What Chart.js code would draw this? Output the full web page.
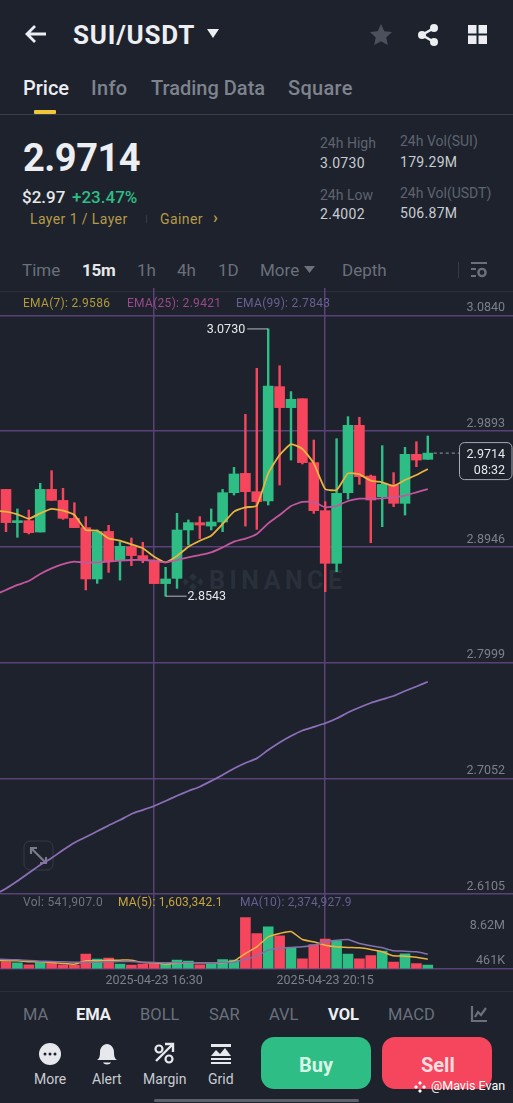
<!DOCTYPE html>
<html>
<head>
<meta charset="utf-8">
<title>SUI/USDT</title>
<script src="https://cdn.jsdelivr.net/npm/chart.js@4"></script>
<style>
  html, body { margin: 0; padding: 0; background: #1d222c; }
  #page { position: relative; width: 513px; height: 1103px; overflow: hidden; background: #1d222c; font-family: Roboto, sans-serif; }
  #page canvas { position: absolute; left: 0; }
  .t { position: absolute; white-space: nowrap; line-height: 24px; height: 24px; }
  .bar { position: absolute; }
  svg { position: absolute; }
</style>
</head>
<body>
<div id="page">
  <div class="bar" style="left:0;top:114px;width:513px;height:1px;background:#3a3f4a"></div>
  <div class="bar" style="left:34px;top:110px;width:22px;height:4px;background:#f0c63c;border-radius:1px"></div>
  <div class="bar" style="left:0;top:291px;width:513px;height:1px;background:#2a2f3a"></div>
  <div class="bar" style="left:0;top:991px;width:513px;height:1px;background:#2a2f3a"></div>
  <div class="bar" style="left:458px;top:262px;width:1px;height:16px;background:#353a45"></div>
  <div class="bar" style="left:146px;top:215px;width:1px;height:8px;background:#353a45"></div>
  <div class="bar" style="left:154px;top:1099px;width:205px;height:3px;border-radius:2px;background:#5c606a"></div>
  <div class="bar" style="left:261px;top:1037px;width:110px;height:52px;border-radius:13px;background:#2ebd85"></div>
  <div class="bar" style="left:382px;top:1037px;width:110px;height:52px;border-radius:13px;background:#f6465d"></div>

  <!-- header icons -->
  <svg style="left:24px;top:24px" width="24" height="20" viewBox="0 0 24 20"><path d="M22 10H3M11 2L3 10l8 8" fill="none" stroke="#eceef2" stroke-width="2.8"/></svg>
  <svg style="left:205px;top:28px" width="16" height="12" viewBox="0 0 16 12"><path d="M2 1h12L8 10z" fill="#eceef2"/></svg>
  <svg style="left:369px;top:23px" width="24" height="24" viewBox="0 0 24 24"><path d="M12 1l3.3 7.2 7.7.9-5.7 5.3 1.5 7.7L12 18.200l-6.800 3.900 1.500-7.700L1 9.100l7.700-.9z" fill="#4b505c"/></svg>
  <svg style="left:416px;top:23px" width="24" height="24" viewBox="0 0 24 24"><path d="M18 5L6 12l12 7" fill="none" stroke="#eceef2" stroke-width="2.600"/><circle cx="18" cy="5" r="4" fill="#eceef2"/><circle cx="6" cy="12" r="4" fill="#eceef2"/><circle cx="18" cy="19" r="4" fill="#eceef2"/></svg>
  <svg style="left:467px;top:24px" width="21" height="21" viewBox="0 0 21 21"><path d="M1 1h8.500v8.500H1zM11.500 1H20v8.500h-8.500zM1 11.500h8.500V20H1zM11.500 11.500H20V20h-8.500z" fill="#eceef2"/></svg>
  <svg style="left:303px;top:265px" width="13" height="9" viewBox="0 0 13 9"><path d="M1 1h11L6.500 8z" fill="#6b707c"/></svg>
  <svg style="left:469px;top:260px" width="20" height="20" viewBox="0 0 20 20"><path d="M2 3h16M2 9h5M2 16h5" stroke="#6b707c" stroke-width="2.200" fill="none"/><circle cx="13" cy="12.500" r="3.600" fill="none" stroke="#6b707c" stroke-width="2.400"/></svg>

  <!-- watermark and expand button sit behind the chart canvas -->
  <svg style="left:182px;top:571px" width="22" height="22" viewBox="0 0 22 22"><path d="M11 2l4 4-4 4-4-4zM11 12l4 4-4 4-4-4zM3 7l4 4-4 4-2-4zM19 7l2 4-2 4-4-4z" fill="#2a303b"/></svg>
  <div class="t" style="left:209px;top:569px;font-size:25px;line-height:24px;font-weight:700;letter-spacing:4.500px;color:#2a303b">BINANCE</div>
  <svg style="left:23px;top:840px" width="31" height="31" viewBox="0 0 31 31"><rect x="1" y="1" width="29" height="29" rx="6" fill="none" stroke="#353a46"/><path d="M8 8l15 15M8 14V8h6M23 17v6h-6" fill="none" stroke="#777b88" stroke-width="2.200"/></svg>

  <canvas id="priceChart" width="513" height="608" style="top:288px;width:513px;height:608px"></canvas>
  <canvas id="volChart" width="513" height="94" style="top:896px;width:513px;height:94px"></canvas>

  <!-- bottom toolbar icons -->
  <svg style="left:470px;top:1005px" width="18" height="18" viewBox="0 0 18 18"><path d="M2 1v15h15M5 12l3-5 3 3 5-7" fill="none" stroke="#6b707c" stroke-width="2.200"/></svg>
  <svg style="left:38px;top:1042px" width="24" height="24" viewBox="0 0 24 24"><circle cx="12" cy="12" r="11" fill="#e6e8ee"/><circle cx="7" cy="12" r="1.500" fill="#1d222c"/><circle cx="12" cy="12" r="1.500" fill="#1d222c"/><circle cx="17" cy="12" r="1.500" fill="#1d222c"/></svg>
  <svg style="left:96px;top:1042px" width="22" height="24" viewBox="0 0 22 24"><path d="M1 18c2-1 3-3 3-8 0-4 3-8 7-8s7 4 7 8c0 5 1 7 3 8z" fill="#e6e8ee"/><path d="M7 20.500h8c-1 2.500-7 2.500-8 0z" fill="#e6e8ee"/></svg>
  <svg style="left:153px;top:1042px" width="22" height="22" viewBox="0 0 22 22"><path d="M3 19L20 2M12 2h8v8" fill="none" stroke="#e6e8ee" stroke-width="2.400"/><circle cx="6" cy="7" r="3.500" fill="none" stroke="#e6e8ee" stroke-width="2.200"/><circle cx="16" cy="17" r="3.500" fill="none" stroke="#e6e8ee" stroke-width="2.200"/></svg>
  <svg style="left:210px;top:1042px" width="22" height="22" viewBox="0 0 22 22"><path d="M1 2h20v3H1zM1 16h20v2H1zM1 20h20v2H1z" fill="#e6e8ee"/><path d="M1 14l5-6 4 4 5-6 6 8z" fill="#e6e8ee"/></svg>
  <svg style="left:413px;top:1080px" width="14" height="14" viewBox="0 0 14 14"><path d="M7 1l2 2-2 2-2-2zM7 9l2 2-2 2-2-2zM3 5l2 2-2 2-2-2zM11 5l2 2-2 2-2-2z" fill="#fff"/></svg>
</div>

<script>
// candles, one per 15 minutes
const opens = [2.9417, 2.9145, 2.9161, 2.9068, 2.9417, 2.9327, 2.9180, 2.9104, 2.8684, 2.9073, 2.8839, 2.8948, 2.8875, 2.8839, 2.8646, 2.8689, 2.9085, 2.9145, 2.9117, 2.9150, 2.9390, 2.9548, 2.9398, 2.9322, 3.0258, 3.0086, 3.0159, 2.9636, 2.9243, 2.8812, 2.9390, 2.9941, 2.9526, 2.9357, 2.9453, 2.9303, 2.9704, 2.9663];
const highs = [2.9417, 2.9257, 2.9248, 2.9467, 2.9570, 2.9426, 2.9308, 2.9194, 2.9085, 2.9123, 2.8989, 2.9019, 2.8984, 2.8839, 2.8779, 2.9221, 2.9167, 2.9194, 2.9257, 2.9417, 2.9597, 3.0031, 3.0408, 3.0730, 3.0429, 3.0217, 3.0159, 2.9821, 2.9317, 2.9832, 3.0012, 3.0007, 2.9535, 2.9775, 2.9554, 2.9761, 2.9807, 2.9854];
const lows = [2.9071, 2.9025, 2.9052, 2.9068, 2.9327, 2.9172, 2.9104, 2.8594, 2.8648, 2.8738, 2.8675, 2.8793, 2.8817, 2.8646, 2.8543, 2.8607, 2.8962, 2.9014, 2.9085, 2.9071, 2.9371, 2.9117, 2.9090, 2.9289, 2.9453, 2.9657, 2.9625, 2.9221, 2.8580, 2.8744, 2.9338, 2.9458, 2.8981, 2.9112, 2.9276, 2.9207, 2.9603, 2.9663];
const closes = [2.9145, 2.9161, 2.9063, 2.9417, 2.9327, 2.9180, 2.9104, 2.8684, 2.9071, 2.8826, 2.8951, 2.8875, 2.8839, 2.8646, 2.8684, 2.9085, 2.9145, 2.9125, 2.9150, 2.9390, 2.9543, 2.9398, 2.9317, 3.0263, 3.0086, 3.0154, 2.9636, 2.9243, 2.8812, 2.9385, 2.9941, 2.9521, 2.9330, 2.9458, 2.9303, 2.9704, 2.9657, 2.9714];

// the line series start one step earlier so they reach the left edge
const ema7 = [2.9243, 2.9235, 2.9213, 2.9177, 2.9221, 2.9257, 2.9243, 2.9207, 2.9085, 2.9079, 2.9016, 2.8997, 2.8967, 2.8935, 2.8866, 2.8820, 2.8872, 2.8948, 2.8997, 2.9038, 2.9134, 2.9235, 2.9270, 2.9284, 2.9548, 2.9698, 2.9788, 2.9748, 2.9630, 2.9420, 2.9412, 2.9548, 2.9540, 2.9488, 2.9475, 2.9445, 2.9494, 2.9535, 2.9584];
const ema25 = [2.8553, 2.8594, 2.8635, 2.8667, 2.8725, 2.8771, 2.8806, 2.8826, 2.8817, 2.8820, 2.8826, 2.8834, 2.8839, 2.8839, 2.8831, 2.8820, 2.8839, 2.8861, 2.8880, 2.8902, 2.8943, 2.8989, 2.9014, 2.9052, 2.9139, 2.9207, 2.9281, 2.9314, 2.9314, 2.9270, 2.9281, 2.9322, 2.9341, 2.9341, 2.9344, 2.9352, 2.9366, 2.9393, 2.9420];
const ema99 = [2.6100, 2.6151, 2.6212, 2.6278, 2.6343, 2.6401, 2.6466, 2.6526, 2.6572, 2.6619, 2.6667, 2.6711, 2.6761, 2.6793, 2.6826, 2.6867, 2.6910, 2.6949, 2.6984, 2.7031, 2.7080, 2.7133, 2.7178, 2.7216, 2.7284, 2.7346, 2.7399, 2.7444, 2.7473, 2.7503, 2.7542, 2.7591, 2.7632, 2.7669, 2.7698, 2.7726, 2.7767, 2.7804, 2.7843];

// volume pane, millions
const volumes = [1.99, 1.76, 1.30, 1.84, 1.84, 1.30, 1.23, 3.75, 2.61, 2.84, 1.46, 1.23, 1.46, 1.61, 1.46, 2.38, 2.15, 1.30, 1.46, 2.53, 2.38, 12.18, 8.50, 10.04, 7.97, 5.29, 2.68, 5.98, 7.20, 6.82, 3.75, 2.68, 3.45, 4.44, 1.92, 3.83, 1.61, 1.23];
const ma5 = [2.38, 2.22, 2.22, 1.99, 1.99, 1.84, 1.61, 1.46, 2.22, 2.22, 2.38, 2.38, 2.38, 1.84, 1.76, 1.46, 1.69, 1.76, 1.76, 1.76, 1.76, 2.22, 3.91, 5.44, 7.74, 8.51, 8.96, 7.12, 6.59, 5.82, 5.44, 5.29, 5.21, 4.83, 4.29, 3.37, 3.30, 3.07, 2.61];
const ma10 = [2.61, 2.53, 2.45, 2.30, 2.15, 2.07, 1.99, 1.92, 1.92, 1.92, 1.99, 2.07, 2.07, 1.92, 1.84, 1.76, 1.76, 1.76, 1.76, 1.76, 1.84, 1.92, 2.61, 3.37, 4.68, 5.13, 5.29, 5.44, 5.82, 6.59, 6.97, 7.12, 6.21, 5.67, 5.21, 4.52, 4.44, 4.29, 3.76];

const priceTicks = [3.0840, 2.9893, 2.8946, 2.7999, 2.7052, 2.6105];
const volTicks = [0.461, 8.62];
const timeTicks = [13, 28];
const timeLabels = ["2025-04-23 16:30", "2025-04-23 20:15"];
const countdown = "08:32";

const GREEN = '#2ebd85';
const RED = '#f6465d';
const GRID = '#5a4278';
const AXIS_TEXT = '#7c808b';

// text around the chart: [text, left, centre y, size, colour, weight, letter spacing]
const labels = [
  ["SUI/USDT", 73, 35, 26, '#eceef2', 700, 0.8],
  ["Price", 23, 88, 20, '#eceef2', 500, 0],
  ["Info", 91, 88, 20, '#7e838e', 500, 0.3],
  ["Trading Data", 151, 88, 20, '#7e838e', 500, 0],
  ["Square", 288, 88, 20, '#7e838e', 500, 0.3],
  ["2.9714", 23, 158, 38, '#eceef2', 700, -0.5],
  ["$2.97", 22, 197, 17, '#e6e8ea', 500, 0],
  ["+23.47%", 72, 197, 17, GREEN, 500, 0],
  ["Layer 1 / Layer", 30, 219, 14, '#b79a48', 400, 0.4],
  ["Gainer", 160, 219, 14, '#b79a48', 400, 0.4],
  ["›", 213, 218, 16, '#b79a48', 700, 0],
  ["24h High", 320, 143, 14, '#5e6470', 400, 0],
  ["3.0730", 320, 163, 14, '#c8ccd2', 400, 0.3],
  ["24h Low", 320, 195, 14, '#5e6470', 400, 0],
  ["2.4002", 320, 214, 14, '#c8ccd2', 400, 0.3],
  ["24h Vol(SUI)", 400, 141, 14, '#5e6470', 400, 0],
  ["179.29M", 400, 162, 14, '#c8ccd2', 400, 0.3],
  ["24h Vol(USDT)", 400, 193, 14, '#5e6470', 400, 0],
  ["506.87M", 400, 213, 14, '#c8ccd2', 400, 0.3],
  ["Time", 22, 270, 17, '#6b707c', 400, 0],
  ["15m", 82, 270, 17, '#e6e8ea', 700, -0.2],
  ["1h", 137, 270, 17, '#6b707c', 400, 0],
  ["4h", 177, 270, 17, '#6b707c', 400, 0],
  ["1D", 218, 270, 17, '#6b707c', 400, 0],
  ["More", 260, 270, 17, '#6b707c', 400, 0],
  ["Depth", 342, 270, 17, '#6b707c', 400, 0],
  ["EMA(7): 2.9586", 23, 303, 12, '#b29a3e', 400, 0.3],
  ["EMA(25): 2.9421", 127, 303, 12, '#9a4a8c', 400, 0.3],
  ["EMA(99): 2.7843", 236, 303, 12, '#6a5f94', 400, 0.3],
  ["Vol: 541,907.0", 23, 902, 12, '#6e7480', 400, 0.3],
  ["MA(5): 1,603,342.1", 118, 902, 12, '#c9a63e', 400, 0.2],
  ["MA(10): 2,374,927.9", 240, 902, 12, '#6a5f94', 400, 0.2],
  ["MA", 23, 1015, 16.5, '#6b707c', 400, 0],
  ["EMA", 76, 1015, 16.5, '#eceef2', 700, 0],
  ["BOLL", 140, 1015, 16.5, '#6b707c', 400, 0],
  ["SAR", 209, 1015, 16.5, '#6b707c', 400, 0],
  ["AVL", 269, 1015, 16.5, '#6b707c', 400, 0],
  ["VOL", 328, 1015, 16.5, '#eceef2', 700, 0],
  ["MACD", 388, 1015, 16.5, '#6b707c', 400, 0],
  ["More", 34, 1079, 14, '#c8ccd2', 400, 0],
  ["Alert", 92, 1079, 14, '#c8ccd2', 400, 0],
  ["Margin", 143, 1079, 14, '#c8ccd2', 400, 0],
  ["Grid", 208, 1079, 14, '#c8ccd2', 400, 0],
  ["Buy", 299, 1065, 20, '#d5f5e6', 700, 0],
  ["Sell", 421, 1065, 20, '#fbdde1', 700, 0],
  ["@Mavis Evan", 431, 1086, 12.5, '#ffffff', 400, 0]
];

const page = document.getElementById('page');
labels.forEach(([text, left, cy, size, color, weight, spacing]) => {
  const el = document.createElement('div');
  el.className = 't';
  el.textContent = text;
  el.style.cssText = `left:${left}px;top:${cy - 12}px;font-size:${size}px;color:${color};font-weight:${weight};letter-spacing:${spacing}px`;
  page.appendChild(el);
});

const candleColors = closes.map((c, i) => c >= opens[i] ? GREEN : RED);
const lineXY = arr => arr.map((v, i) => ({ x: i - 1, y: v }));
const barXY = (a, b) => a.map((v, i) => ({ x: i, y: [v, b[i]] }));

function lineSet(data, color, width) {
  return { type: 'line', data: lineXY(data), borderColor: color, borderWidth: width, pointRadius: 0, tension: 0.15, order: 0 };
}

// x pixel = 6 + 11.4 * index, both panes share it
const xScale = (showLabels) => ({
  type: 'linear',
  min: -0.5263,
  max: 44.4737,
  offset: false,
  border: { display: false },
  grid: { color: GRID, lineWidth: 1.5, offset: false, drawTicks: false },
  afterBuildTicks: s => { s.ticks = timeTicks.map(v => ({ value: v })); },
  afterFit: s => { if (showLabels) s.height = 21.5; },
  ticks: {
    display: showLabels,
    autoSkip: false,
    maxRotation: 0,
    color: AXIS_TEXT,
    padding: 5,
    font: { family: 'Roboto', size: 12.5 },
    callback: v => timeLabels[timeTicks.indexOf(v)]
  }
});

// labels sit inside the plot on the right, the axis itself takes no width
const yScale = (min, max, ticks, format, gridColor) => ({
  type: 'linear',
  position: 'right',
  min: min,
  max: max,
  beginAtZero: false,
  border: { display: false },
  grid: { color: gridColor, lineWidth: 1.5, drawTicks: false },
  afterBuildTicks: s => { s.ticks = ticks.map(v => ({ value: v })); },
  afterFit: s => { s.width = 0; s.paddingTop = 0; s.paddingBottom = 0; },
  ticks: {
    mirror: true,
    padding: -8,
    labelOffset: -7.5,
    color: AXIS_TEXT,
    font: { family: 'Roboto', size: 12.5 },
    callback: format
  }
});

// high / low markers and the current price box
const markers = {
  id: 'markers',
  afterDatasetsDraw(chart) {
    const { ctx, scales: { x, y } } = chart;
    ctx.save();
    ctx.font = '12.5px Roboto';
    ctx.textBaseline = 'middle';

    const hi = highs.indexOf(Math.max(...highs));
    const lo = lows.indexOf(Math.min(...lows));
    const hiX = x.getPixelForValue(hi), hiY = y.getPixelForValue(highs[hi]);
    const loX = x.getPixelForValue(lo), loY = y.getPixelForValue(lows[lo]);
    ctx.strokeStyle = '#b5b8bd';
    ctx.lineWidth = 1;
    ctx.beginPath();
    ctx.moveTo(hiX, hiY);
    ctx.lineTo(hiX - 21, hiY);
    ctx.moveTo(loX, loY);
    ctx.lineTo(loX + 21, loY);
    ctx.stroke();
    ctx.fillStyle = '#e6e8ea';
    ctx.textAlign = 'right';
    ctx.fillText(highs[hi].toFixed(4), hiX - 23, hiY + 1);
    ctx.textAlign = 'left';
    ctx.fillText(lows[lo].toFixed(4), loX + 22, loY + 1);

    // dashed line from the last candle into the box
    const last = closes.length - 1;
    const lastY = y.getPixelForValue(closes[last]);
    ctx.setLineDash([3, 3]);
    ctx.strokeStyle = '#9a9ea6';
    ctx.beginPath();
    ctx.moveTo(x.getPixelForValue(last) + 6, lastY);
    ctx.lineTo(459, lastY);
    ctx.stroke();
    ctx.setLineDash([]);

    ctx.beginPath();
    ctx.roundRect(459.5, lastY - 10.5, 52.5, 37, 5);
    ctx.fillStyle = '#1d222c';
    ctx.fill();
    ctx.strokeStyle = '#a6aab2';
    ctx.stroke();
    ctx.fillStyle = '#e6e8ea';
    ctx.textAlign = 'right';
    ctx.fillText(closes[last].toFixed(4), 505, lastY + 2);
    ctx.fillText(countdown, 505, lastY + 18);
    ctx.restore();
  }
};

Chart.defaults.animation = false;

new Chart(document.getElementById('priceChart'), {
  type: 'bar',
  data: {
    datasets: [
      lineSet(ema99, '#8d6fb9', 1.8),
      lineSet(ema25, '#c4569f', 1.8),
      lineSet(ema7, '#e8b53f', 1.8),
      { data: barXY(opens, closes), backgroundColor: candleColors, barThickness: 10, grouped: false, order: 1 },
      { data: barXY(lows, highs), backgroundColor: candleColors, barThickness: 1.8, grouped: false, order: 2 }
    ]
  },
  options: {
    responsive: false,
    devicePixelRatio: 1,
    events: [],
    layout: { padding: 0 },
    plugins: { legend: { display: false }, tooltip: { enabled: false } },
    scales: {
      x: xScale(false),
      y: yScale(2.60896, 3.10650, priceTicks, v => v.toFixed(4), GRID)
    }
  },
  plugins: [markers]
});

new Chart(document.getElementById('volChart'), {
  type: 'bar',
  data: {
    datasets: [
      lineSet(ma10, '#8271ad', 1.5),
      lineSet(ma5, '#e8b53f', 1.5),
      { data: volumes.map((v, i) => ({ x: i, y: v })), backgroundColor: candleColors, barThickness: 10, grouped: false, order: 1 }
    ]
  },
  options: {
    responsive: false,
    devicePixelRatio: 1,
    events: [],
    layout: { padding: 0 },
    plugins: { legend: { display: false }, tooltip: { enabled: false } },
    scales: {
      x: xScale(true),
      y: yScale(0.461, 17.12, volTicks,
        v => v >= 1 ? v + 'M' : Math.round(v * 1000) + 'K',
        c => c.tick && c.tick.value === volTicks[0] ? GRID : 'transparent')
    }
  }
});
</script>
</body>
</html>
